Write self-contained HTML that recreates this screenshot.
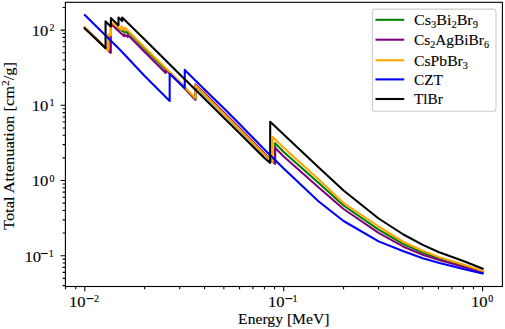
<!DOCTYPE html>
<html><head><meta charset="utf-8"><style>
html,body{margin:0;padding:0;background:#fff;}
svg{display:block;}
text{font-family:"Liberation Serif",serif;fill:#000;}
</style></head><body>
<svg width="505" height="329" viewBox="0 0 505 329">
<rect width="505" height="329" fill="#fff"/>
<g fill="none" stroke-width="2.08" stroke-linejoin="round" stroke-linecap="square">
<path stroke="#008000" d="M84.80,27.80L110.61,52.50L110.61,34.00L110.93,34.30L110.93,24.00L124.22,32.00L124.22,30.50L127.88,33.50L127.88,31.50L144.67,49.00L179.70,83.30L195.40,99.70L195.40,85.70L204.55,94.90L223.83,114.10L239.57,129.60L264.42,155.00L275.11,163.50L275.11,143.10L283.70,152.00L318.72,183.00L343.57,205.50L378.60,229.70L403.45,244.00L422.73,252.60L438.47,258.30L463.32,265.40L482.60,271.30"/>
<path stroke="#800080" d="M84.80,27.80L110.61,52.80L110.61,36.00L110.93,36.30L110.93,24.10L124.22,36.20L124.22,34.30L127.88,37.00L127.88,35.00L144.67,52.00L165.69,72.90L165.69,69.50L179.70,82.50L195.40,99.50L195.40,84.40L204.55,93.30L223.83,112.50L239.57,128.00L264.42,153.50L275.11,163.70L275.11,147.70L283.70,156.50L318.72,187.50L343.57,209.00L378.60,232.90L403.45,246.70L422.73,254.70L438.47,259.70L463.32,266.90L482.60,272.20"/>
<path stroke="#ffa500" d="M84.80,27.80L108.13,50.50L108.13,34.50L110.93,35.50L110.93,22.00L121.37,30.00L121.37,26.20L125.04,30.50L125.04,27.80L144.67,47.50L179.70,81.70L195.40,98.40L195.40,85.30L204.55,94.50L223.83,113.70L239.57,129.20L264.42,154.50L272.66,162.10L272.66,137.00L283.70,147.70L318.72,179.50L343.57,203.00L378.60,226.50L403.45,242.00L422.73,250.80L438.47,256.90L463.32,264.50L482.60,271.00"/>
<path stroke="#0000ff" d="M84.80,15.10L120.22,50.00L144.67,76.00L169.67,100.90L169.67,73.80L179.70,83.20L184.76,88.10L184.76,69.90L204.55,89.50L223.83,108.30L239.57,124.00L264.42,149.50L283.70,168.50L318.72,201.50L343.57,221.00L378.60,241.40L403.45,251.20L422.73,258.30L438.47,262.80L463.32,269.00L482.60,273.40"/>
<path stroke="#000000" d="M84.80,28.40L105.57,48.20L105.57,21.40L110.93,26.60L110.93,18.10L118.48,25.40L118.48,17.50L122.22,21.10L122.22,17.50L144.67,39.50L179.70,74.30L204.55,98.80L223.83,117.70L239.57,133.30L264.42,158.00L270.20,162.90L270.20,121.80L283.70,134.50L318.72,167.50L343.57,190.50L378.60,218.50L403.45,234.50L422.73,244.90L438.47,252.00L463.32,261.00L482.60,268.70"/>
</g>
<g stroke="#000" stroke-width="1.11" fill="none">
<rect x="65.4" y="2.3" width="437.0" height="284.2" stroke-linejoin="miter"/>
<path d="M65.52,286.5v2.78M75.70,286.5v2.78M84.80,286.5v4.86M144.67,286.5v2.78M179.70,286.5v2.78M204.55,286.5v2.78M223.83,286.5v2.78M239.57,286.5v2.78M252.89,286.5v2.78M264.42,286.5v2.78M274.60,286.5v2.78M283.70,286.5v4.86M343.57,286.5v2.78M378.60,286.5v2.78M403.45,286.5v2.78M422.73,286.5v2.78M438.47,286.5v2.78M451.79,286.5v2.78M463.32,286.5v2.78M473.50,286.5v2.78M482.60,286.5v4.86"/>
<path d="M65.4,285.63h-2.78M65.4,278.34h-2.78M65.4,272.38h-2.78M65.4,267.35h-2.78M65.4,262.99h-2.78M65.4,259.14h-2.78M65.4,255.70h-4.86M65.4,233.06h-2.78M65.4,219.82h-2.78M65.4,210.43h-2.78M65.4,203.14h-2.78M65.4,197.18h-2.78M65.4,192.15h-2.78M65.4,187.79h-2.78M65.4,183.94h-2.78M65.4,180.50h-4.86M65.4,157.86h-2.78M65.4,144.62h-2.78M65.4,135.23h-2.78M65.4,127.94h-2.78M65.4,121.98h-2.78M65.4,116.95h-2.78M65.4,112.59h-2.78M65.4,108.74h-2.78M65.4,105.30h-4.86M65.4,82.66h-2.78M65.4,69.42h-2.78M65.4,60.03h-2.78M65.4,52.74h-2.78M65.4,46.78h-2.78M65.4,41.75h-2.78M65.4,37.39h-2.78M65.4,33.54h-2.78M65.4,30.10h-4.86M65.4,7.46h-2.78"/>
</g>
<!-- legend -->
<rect x="372.4" y="9.1" width="123.6" height="102.1" rx="2.8" ry="2.8" fill="#fff" fill-opacity="0.8" stroke="#cccccc" stroke-width="1.1"/>
<g stroke-width="2.08" stroke-linecap="square">
<path stroke="#008000" d="M376.5,19.8H403.2"/>
<path stroke="#800080" d="M376.5,39.7H403.2"/>
<path stroke="#ffa500" d="M376.5,60.3H403.2"/>
<path stroke="#0000ff" d="M376.5,79.4H403.2"/>
<path stroke="#000000" d="M376.5,99.0H403.2"/>
</g>
<g font-size="15.2" stroke="#000" stroke-width="0.12">
<text x="414" y="24.9" textLength="64" lengthAdjust="spacingAndGlyphs">Cs<tspan font-size="10.0" dy="3.0">3</tspan><tspan dy="-3.0">Bi</tspan><tspan font-size="10.0" dy="3.0">2</tspan><tspan dy="-3.0">Br</tspan><tspan font-size="10.0" dy="3.0">9</tspan></text>
<text x="414" y="44.7" textLength="75" lengthAdjust="spacingAndGlyphs">Cs<tspan font-size="10.0" dy="3.0">2</tspan><tspan dy="-3.0">AgBiBr</tspan><tspan font-size="10.0" dy="3.0">6</tspan></text>
<text x="414" y="65.8" textLength="54" lengthAdjust="spacingAndGlyphs">CsPbBr<tspan font-size="10.0" dy="3.0">3</tspan></text>
<text x="414" y="84.9">CZT</text>
<text x="414" y="103.9">TlBr</text>
</g>
<!-- tick labels -->
<g font-size="15.2" stroke="#000" stroke-width="0.12">
<text x="31.80" y="35.50" textLength="16.6" lengthAdjust="spacingAndGlyphs">10</text><text x="49.50" y="31.00" font-size="10.0">2</text>
<text x="31.80" y="110.80" textLength="16.6" lengthAdjust="spacingAndGlyphs">10</text><text x="49.50" y="106.30" font-size="10.0">1</text>
<text x="31.80" y="186.00" textLength="16.6" lengthAdjust="spacingAndGlyphs">10</text><text x="49.50" y="181.50" font-size="10.0">0</text>
<text x="24.40" y="261.70" textLength="16.6" lengthAdjust="spacingAndGlyphs">10</text><path d="M40.80,253.50h7.00" stroke="#000" stroke-width="1.1"/><text x="48.80" y="257.20" font-size="10.0">1</text>
<text x="69.00" y="306.90" textLength="16.6" lengthAdjust="spacingAndGlyphs">10</text><path d="M86.60,298.60h7.00" stroke="#000" stroke-width="1.1"/><text x="94.00" y="302.40" font-size="10.0">2</text>
<text x="267.90" y="306.90" textLength="16.6" lengthAdjust="spacingAndGlyphs">10</text><path d="M285.40,298.60h7.00" stroke="#000" stroke-width="1.1"/><text x="292.40" y="302.40" font-size="10.0">1</text>
<text x="471.00" y="306.90" textLength="16.6" lengthAdjust="spacingAndGlyphs">10</text><text x="488.20" y="302.40" font-size="10.0">0</text>
<text x="238.1" y="324.4" textLength="91.4" lengthAdjust="spacingAndGlyphs">Energy [MeV]</text>
<text transform="translate(14.3,230) rotate(-90)" x="0" y="0" textLength="168" lengthAdjust="spacingAndGlyphs">Total Attenuation [cm<tspan font-size="10.6" dy="-5">2</tspan><tspan dy="5">/g]</tspan></text>
</g>
</svg>
</body></html>
